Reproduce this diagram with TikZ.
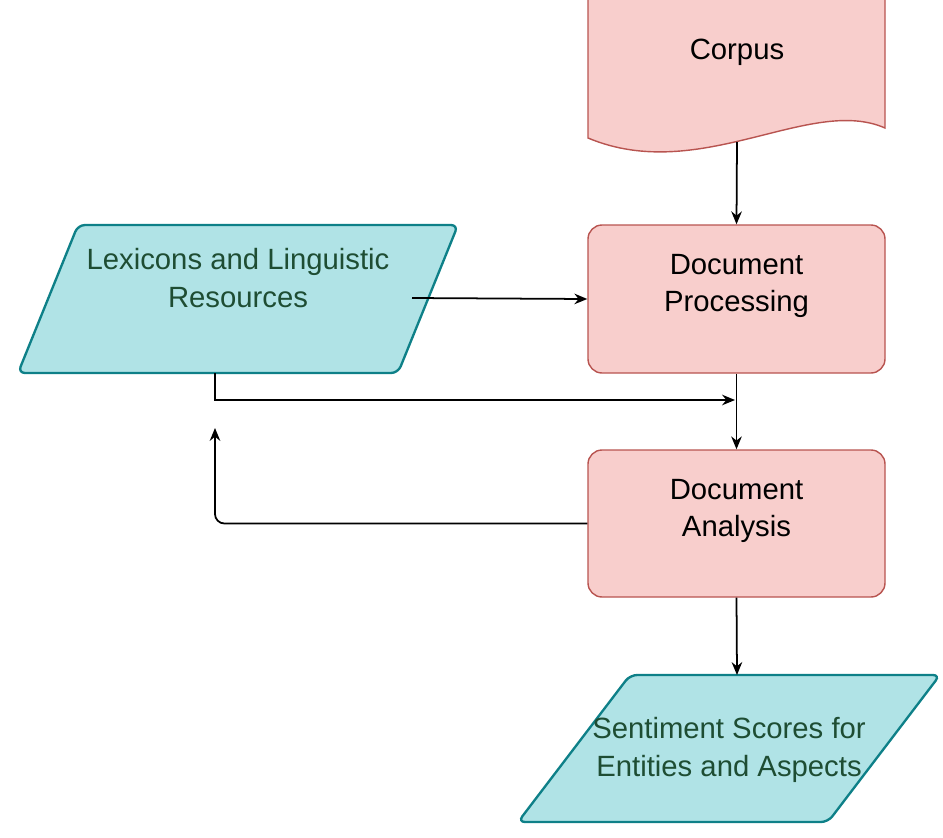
\documentclass[tikz,border=0pt]{standalone}
\usepackage{fontspec}
\setmainfont{Liberation Sans}
\usetikzlibrary{arrows.meta}
\begin{document}
\begin{tikzpicture}[x=0.03cm,y=-0.03cm,
  pinkbox/.style={fill=pinkf,draw=pinkd,line width=1.2pt},
  tealbox/.style={fill=tealf,draw=teald,line width=2pt},
  lbl/.style={font=\fontsize{25}{32}\selectfont,align=center},
  arr/.style={-{Stealth[length=11pt,width=9pt]},line width=1.5pt}]
\definecolor{pinkf}{HTML}{F8CECC}\definecolor{pinkd}{HTML}{B85450}
\definecolor{tealf}{HTML}{B0E3E6}\definecolor{teald}{HTML}{0E8088}
\definecolor{txtg}{HTML}{1E4D33}
\useasboundingbox (0,0) rectangle (943,838);
% Corpus
\draw[pinkbox] (588,-3) -- (885,-3) -- (885,128) .. controls (810,95) and (700,185) .. (588,138) -- cycle;
\node[lbl] (corpus) at (737,52) {Corpus};
\coordinate (cb) at (737,142);
% Document boxes
\node[pinkbox,rounded corners=12pt,minimum width=297*0.03cm,minimum height=148*0.03cm] (proc) at (736.5,299) {};
\node[lbl] at (736.5,286) {Document\\Processing};
\node[pinkbox,rounded corners=12pt,minimum width=297*0.03cm,minimum height=147*0.03cm] (ana) at (736.5,523.5) {};
\node[lbl] at (736.5,511) {Document\\Analysis};
% Lexicons
\draw[tealbox,rounded corners=6pt] (78,225) -- (458,225) -- (398,373) -- (18,373) -- cycle;
\node[lbl,text=txtg] (lex) at (238,278) {Lexicons and Linguistic\\Resources};
\draw[tealbox,rounded corners=6pt] (630,675) -- (940,675) -- (828,822) -- (518,822) -- cycle;
\node[lbl,text=txtg] (sent) at (729,750) {Sentiment Scores for\\Entities and Aspects};
\coordinate (lexr) at (412,298);
\coordinate (lexb) at (215,373);
\coordinate (lexb2) at (215,428);
\coordinate (mid) at (735,400);
\coordinate (stop) at (737,675);
\draw[arr] (cb) -- (proc.north);
\draw[arr] (lexr) -- (proc.west);
\draw[arr] (proc.south) -- (ana.north);
\draw[arr] (lexb) |- (mid);
\draw[arr,rounded corners=8pt] (ana.west) -| (lexb2);
\draw[arr] (ana.south) -- (stop);
\end{tikzpicture}
\end{document}
